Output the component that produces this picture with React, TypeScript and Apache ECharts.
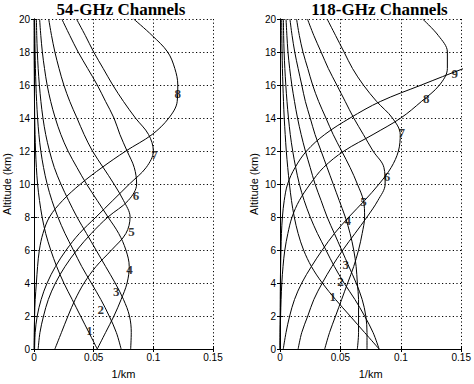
import React, { useEffect, useRef } from "react";
import * as echarts from "echarts";

// altitude samples (km)
const heights = [0, 1, 2, 3, 4, 5, 6, 7, 8, 9, 10, 11, 12, 13, 14, 15, 16, 17, 18, 19, 20];
const xTickLabels = ["0", "0.05", "0.1", "0.15"];

// 54-GHz weighting functions (1/km) at each altitude
const w54_1 = [0.053, 0.046, 0.039, 0.032, 0.025, 0.019, 0.014, 0.0098, 0.0068, 0.0046, 0.003, 0.002, 0.0013, 0.0009, 0.0006, 0.0004, 0.0003, 0.0002, 0.0001, 0.0001, 0];
const w54_2 = [0.073, 0.069, 0.063, 0.056, 0.048, 0.04, 0.033, 0.026, 0.02, 0.015, 0.011, 0.008, 0.0057, 0.0041, 0.003, 0.0022, 0.0016, 0.0012, 0.0009, 0.0007, 0.0005];
const w54_3 = [0.081, 0.0815, 0.08, 0.075, 0.068, 0.06, 0.052, 0.044, 0.036, 0.029, 0.0225, 0.017, 0.013, 0.0098, 0.0075, 0.0058, 0.0045, 0.0035, 0.0028, 0.0023, 0.002];
const w54_4 = [0.053, 0.06, 0.067, 0.073, 0.078, 0.0798, 0.077, 0.071, 0.062, 0.053, 0.044, 0.036, 0.0285, 0.0225, 0.0178, 0.014, 0.011, 0.0088, 0.007, 0.0057, 0.0047];
const w54_5 = [0.0175, 0.023, 0.0285, 0.0345, 0.042, 0.052, 0.065, 0.077, 0.0805, 0.075, 0.067, 0.058, 0.049, 0.042, 0.036, 0.03, 0.025, 0.021, 0.0175, 0.0147, 0.0123];
const w54_6 = [0.0035, 0.005, 0.008, 0.012, 0.018, 0.026, 0.036, 0.048, 0.062, 0.079, 0.086, 0.084, 0.078, 0.072, 0.067, 0.06, 0.053, 0.045, 0.037, 0.03, 0.0233];
const w54_7 = [0.0005, 0.001, 0.0027, 0.006, 0.011, 0.018, 0.027, 0.038, 0.052, 0.066, 0.08, 0.094, 0.1, 0.096, 0.085, 0.075, 0.066, 0.058, 0.05, 0.043, 0.0356];
const w54_8 = [0, 0.0002, 0.0005, 0.001, 0.002, 0.003, 0.0045, 0.0075, 0.013, 0.024, 0.039, 0.057, 0.077, 0.099, 0.113, 0.12, 0.1205, 0.118, 0.112, 0.099, 0.0835];

// 118-GHz weighting functions (1/km)
const w118_1 = [0.082, 0.07, 0.058, 0.046, 0.035, 0.026, 0.0195, 0.015, 0.0118, 0.0095, 0.0078, 0.0064, 0.0052, 0.0043, 0.0035, 0.0029, 0.0024, 0.002, 0.0017, 0.0015, 0.0014];
const w118_2 = [0.082, 0.077, 0.07, 0.062, 0.053, 0.045, 0.038, 0.031, 0.025, 0.02, 0.016, 0.013, 0.0105, 0.0085, 0.007, 0.0058, 0.0048, 0.004, 0.0034, 0.003, 0.0028];
const w118_3 = [0.072, 0.072, 0.071, 0.068, 0.063, 0.057, 0.051, 0.045, 0.039, 0.034, 0.029, 0.025, 0.021, 0.0175, 0.0145, 0.012, 0.0098, 0.008, 0.0066, 0.0057, 0.005];
const w118_4 = [0.064, 0.065, 0.065, 0.065, 0.064, 0.063, 0.061, 0.058, 0.054, 0.049, 0.044, 0.039, 0.034, 0.029, 0.025, 0.021, 0.018, 0.015, 0.0122, 0.01, 0.0082];
const w118_5 = [0.037, 0.041, 0.046, 0.051, 0.056, 0.061, 0.065, 0.068, 0.07, 0.069, 0.064, 0.058, 0.051, 0.044, 0.038, 0.032, 0.027, 0.023, 0.019, 0.016, 0.0137];
const w118_6 = [0.015, 0.018, 0.023, 0.028, 0.035, 0.043, 0.052, 0.062, 0.072, 0.081, 0.087, 0.086, 0.077, 0.069, 0.061, 0.054, 0.047, 0.04, 0.034, 0.028, 0.0227];
const w118_7 = [0.0027, 0.005, 0.008, 0.012, 0.018, 0.026, 0.035, 0.045, 0.057, 0.07, 0.082, 0.092, 0.098, 0.0995, 0.093, 0.08, 0.069, 0.06, 0.053, 0.046, 0.039];
const w118_8 = [0, 0.0002, 0.0005, 0.0009, 0.0015, 0.0025, 0.004, 0.0065, 0.01, 0.016, 0.025, 0.036, 0.053, 0.077, 0.1, 0.117, 0.132, 0.1385, 0.1385, 0.131, 0.118];
const heights118_9 = [0, 1, 2, 3, 4, 5, 6, 7, 8, 9, 10, 11, 12, 13, 14, 15, 16, 17, 18];
const w118_9 = [0, 0, 0.0001, 0.0002, 0.0003, 0.0005, 0.0008, 0.0012, 0.002, 0.0035, 0.0063, 0.0125, 0.022, 0.037, 0.058, 0.083, 0.117, 0.152, 0.19];

// channel number labels: text, x (1/km), altitude (km)
const labels54Text = ["1", "2", "3", "4", "5", "6", "7", "8"];
const labels54X = [0.0465, 0.056, 0.069, 0.08, 0.0816, 0.0854, 0.101, 0.1204];
const labels54H = [1.12, 2.39, 3.47, 4.8, 7.1, 9.3, 11.8, 15.5];
const labels118Text = ["1", "2", "3", "4", "5", "6", "7", "8", "9"];
const labels118X = [0.0436, 0.05, 0.0545, 0.056, 0.069, 0.0885, 0.1007, 0.121, 0.1446];
const labels118H = [3.18, 4.12, 5.14, 7.78, 8.96, 10.45, 13.1, 15.2, 16.7];

const curves54 = [w54_1, w54_2, w54_3, w54_4, w54_5, w54_6, w54_7, w54_8];
const curves118 = [w118_1, w118_2, w118_3, w118_4, w118_5, w118_6, w118_7, w118_8];

const SANS = "'Liberation Sans', Arial, Helvetica, sans-serif";
const SERIF = "'Liberation Serif', 'Times New Roman', serif";

function toPairs(xs: number[], hs: number[]) {
  return xs.map((v, i) => [v, hs[i]]);
}

export default function App() {
  const ref = useRef<HTMLDivElement>(null);
  useEffect(() => {
    if (!ref.current) return;
    const chart = echarts.init(ref.current, undefined, { renderer: "svg" });

    const grids = [
      { left: 30, top: 19, width: 183, height: 340, show: false },
      { left: 280, top: 19, width: 183.5, height: 340, show: false },
    ];

    const axisLineStyle = { show: true, lineStyle: { color: "#000", width: 1 } };
    const tick = { show: true, inside: true, length: 3, lineStyle: { color: "#000" } };
    const split = { show: true, lineStyle: { color: "#000", width: 1, type: [1.2, 2.4] as any } };

    const xAxes: any[] = [];
    const yAxes: any[] = [];
    [0, 1].forEach((g) => {
      xAxes.push({
        type: "value",
        gridIndex: g,
        position: "bottom",
        min: 0,
        max: 0.15,
        interval: 0.05,
        axisLine: axisLineStyle,
        axisTick: tick,
        splitLine: split,
        axisLabel: {
          show: true,
          margin: 3,
          color: "#000",
          fontFamily: SANS,
          fontSize: 10,
          formatter: (v: number) => xTickLabels[Math.round(v / 0.05)] ?? "",
        },
        name: "1/km",
        nameLocation: "middle",
        nameGap: 19,
        nameTextStyle: { color: "#000", fontFamily: SANS, fontSize: 11 },
      });
      xAxes.push({
        type: "value",
        gridIndex: g,
        position: "top",
        min: 0,
        max: 0.15,
        interval: 0.05,
        axisLine: axisLineStyle,
        axisTick: tick,
        splitLine: { show: false },
        axisLabel: { show: false },
      });
      yAxes.push({
        type: "value",
        gridIndex: g,
        position: "left",
        min: 0,
        max: 20,
        interval: 2,
        axisLine: axisLineStyle,
        axisTick: tick,
        splitLine: split,
        axisLabel: { show: true, margin: 4, color: "#000", fontFamily: SANS, fontSize: 10 },
        name: "Altitude (km)",
        nameLocation: "middle",
        nameGap: g === 0 ? 22 : 21,
        nameTextStyle: { color: "#000", fontFamily: SANS, fontSize: 11 },
      });
      yAxes.push({
        type: "value",
        gridIndex: g,
        position: "right",
        min: 0,
        max: 20,
        interval: 2,
        axisLine: axisLineStyle,
        axisTick: tick,
        splitLine: { show: false },
        axisLabel: { show: false },
      });
    });

    const lineSeries = (data: number[][], g: number, clip = true) => ({
      type: "line",
      xAxisIndex: g * 2,
      yAxisIndex: g * 2,
      data,
      showSymbol: false,
      symbol: "none",
      smooth: 0.35,
      clip,
      silent: true,
      lineStyle: { color: "#000", width: 1 },
      z: 3,
    });

    const series: any[] = [];
    curves54.forEach((c) => series.push(lineSeries(toPairs(c, heights), 0)));
    curves118.forEach((c) => series.push(lineSeries(toPairs(c, heights), 1)));
    series.push(lineSeries(toPairs(w118_9, heights118_9), 1, false));

    const labelSeries = (t: string[], xs: number[], hs: number[], g: number) => ({
      type: "scatter",
      xAxisIndex: g * 2,
      yAxisIndex: g * 2,
      symbolSize: 0,
      silent: true,
      z: 5,
      data: t.map((s, i) => [xs[i], hs[i], s]),
      label: {
        show: true,
        position: "inside",
        formatter: (p: any) => p.value[2],
        color: "#000",
        fontFamily: SERIF,
        fontWeight: "bold",
        fontSize: 13,
      },
    });
    series.push(labelSeries(labels54Text, labels54X, labels54H, 0));
    series.push(labelSeries(labels118Text, labels118X, labels118H, 1));

    chart.setOption({
      animation: false,
      backgroundColor: "#fff",
      grid: grids,
      xAxis: xAxes,
      yAxis: yAxes,
      series,
      graphic: [
        {
          type: "text",
          x: 121,
          y: 9,
          style: {
            text: "54-GHz Channels",
            font: `bold 17px ${SERIF}`,
            fill: "#000",
            textAlign: "center",
            textVerticalAlign: "middle",
          },
        },
        {
          type: "text",
          x: 379.5,
          y: 9,
          style: {
            text: "118-GHz Channels",
            font: `bold 17px ${SERIF}`,
            fill: "#000",
            textAlign: "center",
            textVerticalAlign: "middle",
          },
        },
      ],
    });
    return () => chart.dispose();
  }, []);

  return (
    <div
      ref={ref}
      style={{ position: "fixed", left: 0, top: 0, width: 474, height: 384, background: "#fff" }}
    />
  );
}
